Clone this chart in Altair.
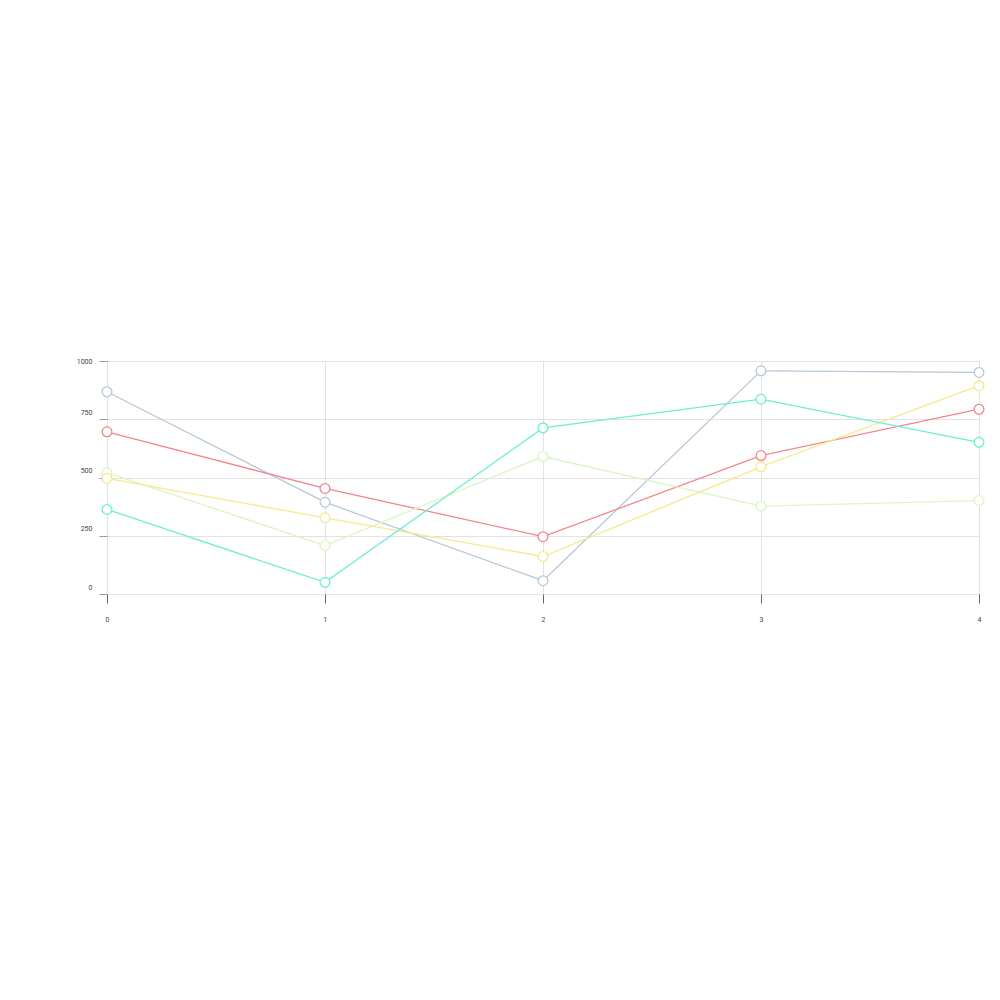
import altair as alt
import pandas as pd

xs = [0, 1, 2, 3, 4]
series_names = ["Slate", "Coral", "Lime", "Sun", "Mint"]
slate = [868, 394, 57, 958, 951]
coral = [696, 453, 246, 594, 793]
lime = [521, 208, 590, 377, 401]
sun = [496, 327, 161, 546, 894]
mint = [363, 50, 713, 836, 651]
colors = ["#b7c9d8", "#f4858c", "#dcf5c4", "#f6e98c", "#6cefd0"]
y_ticks = [0, 250, 500, 750, 1000]

rows = []
for name, vals in zip(series_names, [slate, coral, lime, sun, mint]):
    for x, v in zip(xs, vals):
        rows.append({"x": x, "value": v, "series": name})
df = pd.DataFrame(rows)

chart = alt.Chart(df).mark_line(
    strokeWidth=1.3,
    point=alt.OverlayMarkDef(filled=False, fill="white", size=95, strokeWidth=1.3, opacity=1),
).encode(
    x=alt.X("x:Q", title=None,
            scale=alt.Scale(domain=[0, 4], nice=False, zero=False),
            axis=alt.Axis(values=xs, format="d", grid=True, gridColor="#e2e2e2",
                          domain=False, tickColor="#666666", tickSize=9,
                          labelPadding=12, labelFontSize=7, labelColor="#444444",
                          labelFont="Roboto", labelFlush=False)),
    y=alt.Y("value:Q", title=None,
            scale=alt.Scale(domain=[0, 1000], nice=False),
            axis=alt.Axis(values=y_ticks, format="d", grid=True, gridColor="#e2e2e2",
                          domain=False, tickColor="#999999", tickSize=8,
                          labelPadding=7, labelFontSize=7, labelColor="#444444",
                          labelFont="Roboto", labelBaseline="middle", labelFlush=False,
                          labelOffset={"condition": {"test": "datum.value == 1000", "value": 0}, "value": -7})),
    color=alt.Color("series:N", scale=alt.Scale(domain=series_names, range=colors), legend=None),
    order=alt.Order("x:Q"),
).properties(
    width=872,
    height=233,
    autosize=alt.AutoSizeParams(type="none"),
    padding={"left": 99, "top": 353, "right": 13, "bottom": 30},
).configure_view(stroke=None).configure(background="white")

chart.save("out.html", embed_options={"renderer": "svg", "actions": False})
